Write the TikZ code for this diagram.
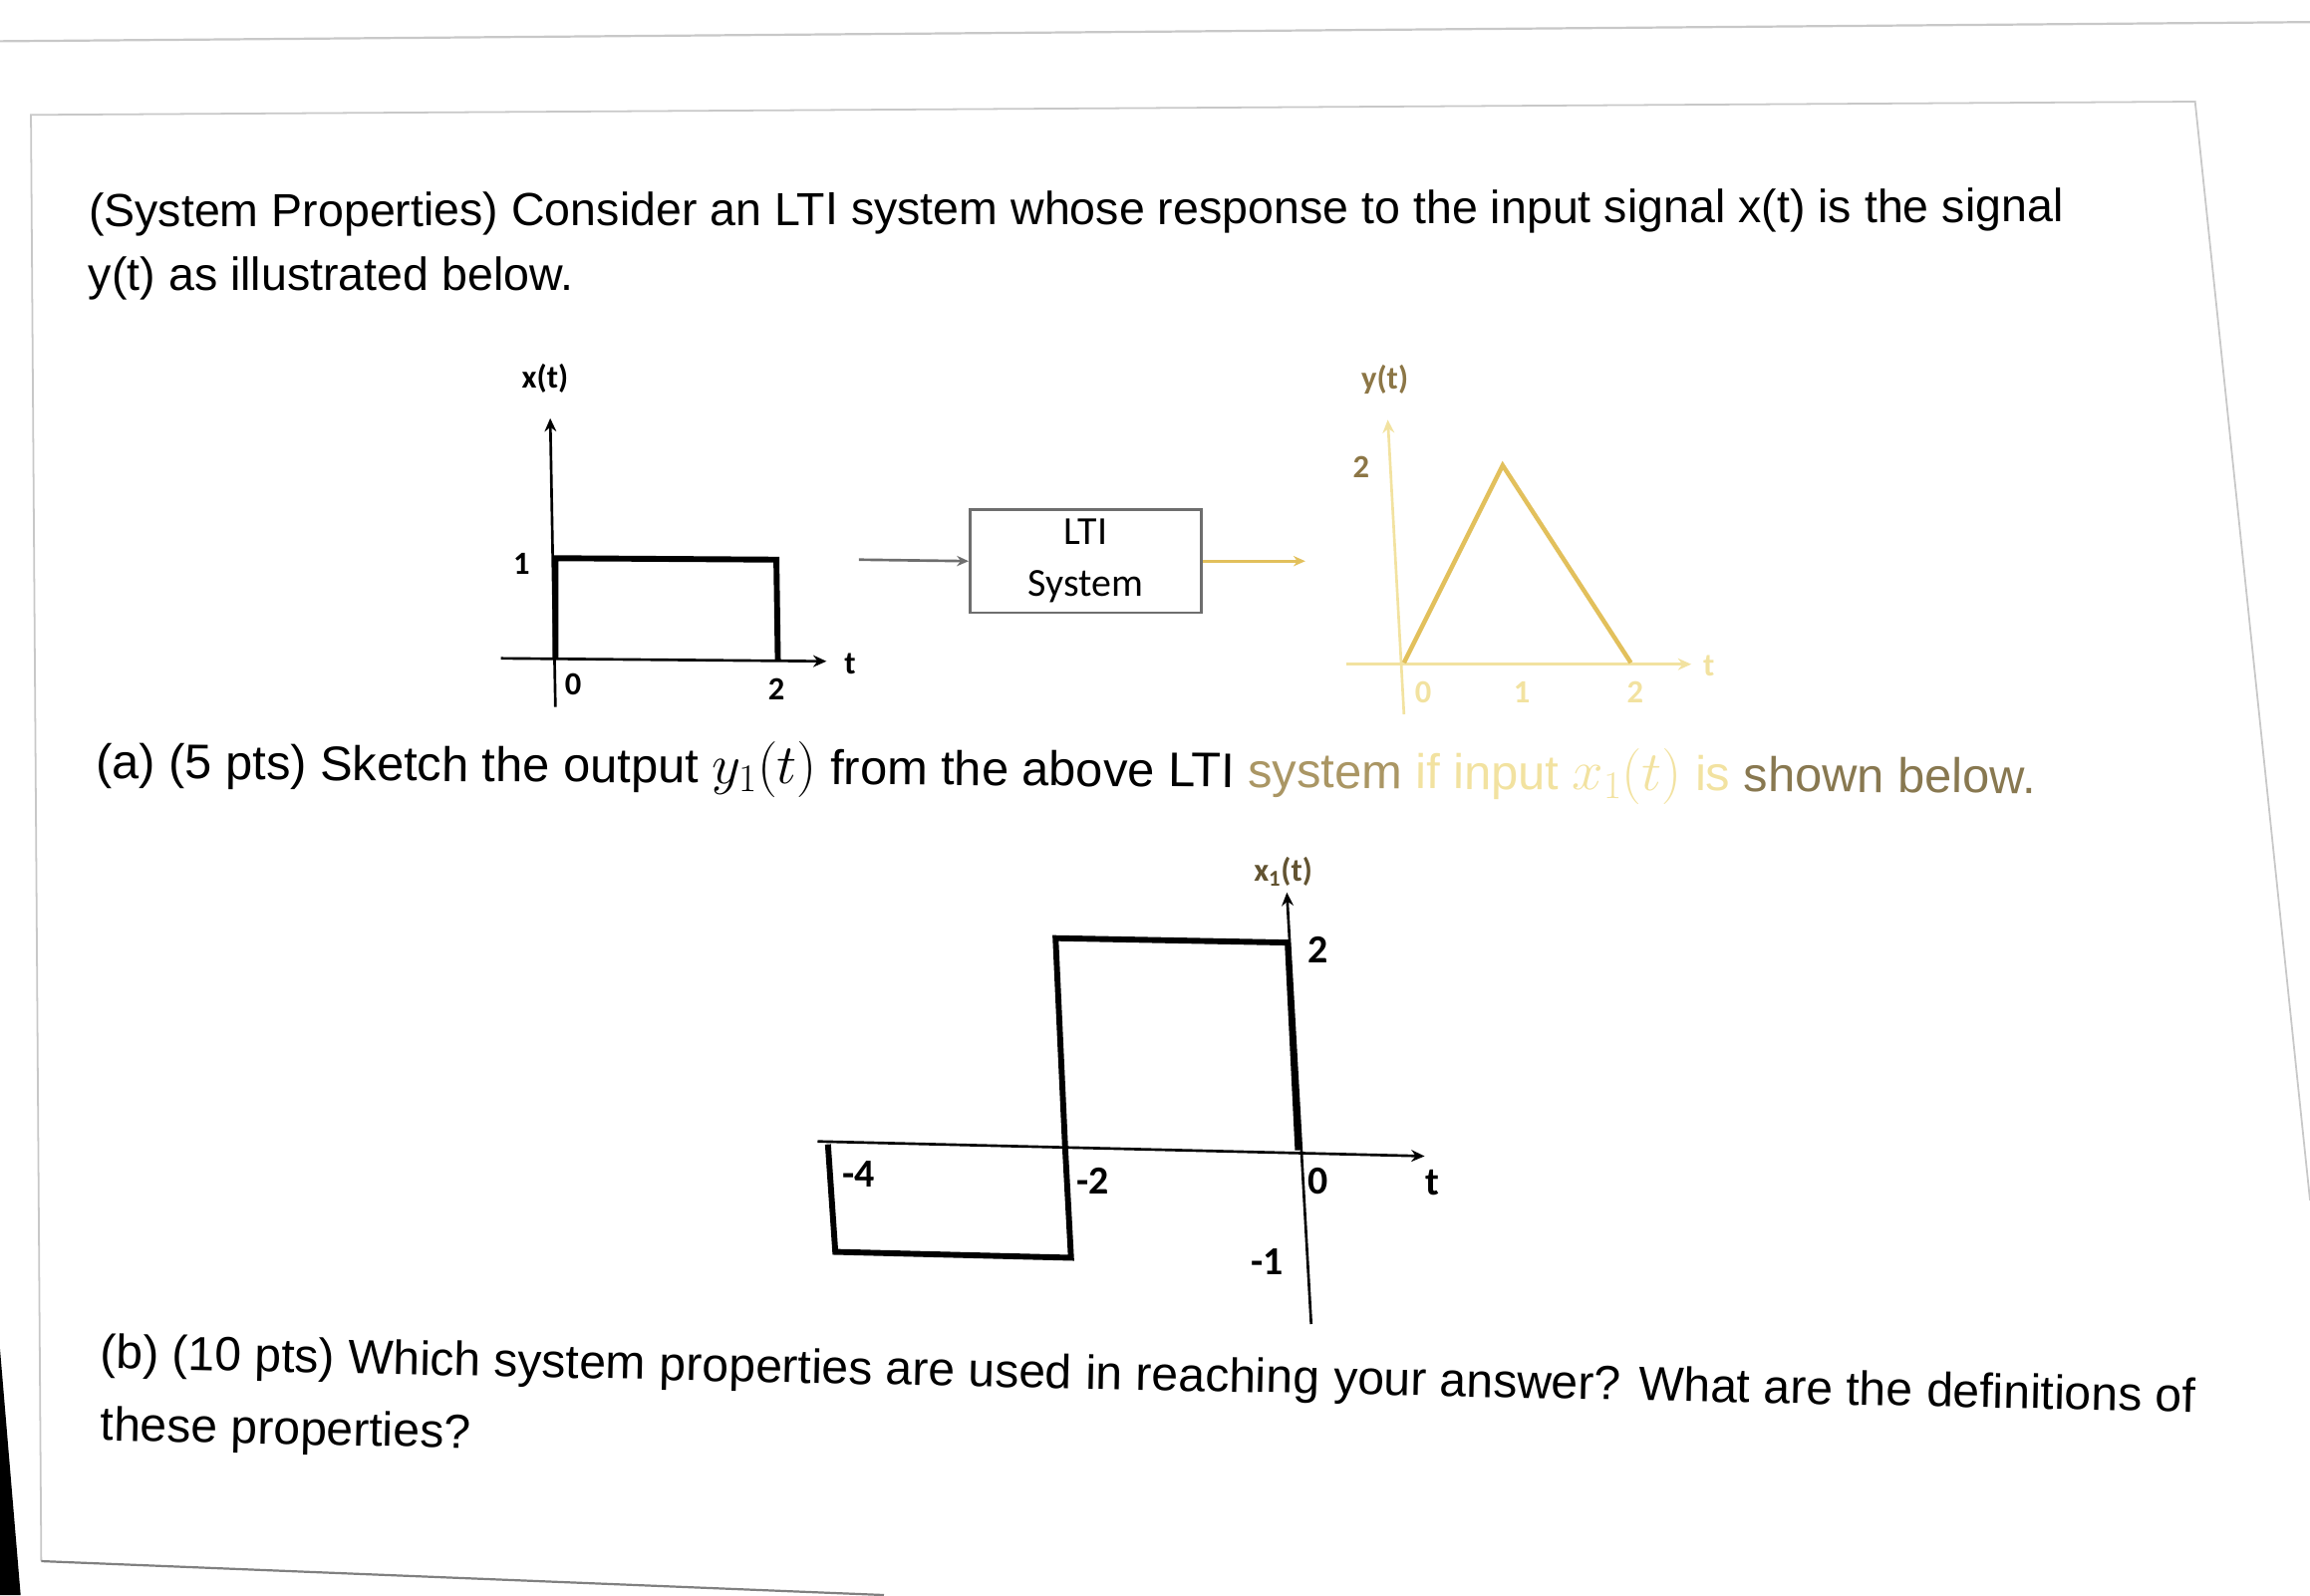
\documentclass[tikz,border=0pt]{standalone}
\usepackage{fix-cm}
\usepackage{fontspec}
\setmainfont{Liberation Sans}
\newfontfamily\plotfont{Carlito}
\usetikzlibrary{arrows.meta,positioning}
\tikzset {>=Stealth}

\definecolor{framegray}{RGB}{200,200,200}
\definecolor{boxgray}{RGB}{110,110,110}
\definecolor{gold}{RGB}{226,192,92}
\definecolor{palegold}{RGB}{242,226,160}
\definecolor{darkgold}{RGB}{140,118,70}
\definecolor{fadetext}{RGB}{170,150,100}

\tikzset{
  signal/.style={line width=4pt,line join=miter},
  axis/.style={line width=1.8pt,-{Stealth[length=9pt,width=8pt]}},
  plotlabel/.style={inner sep=0pt,font=\plotfont\bfseries\fontsize{22}{22}\selectfont},
  ticklabel/.style={inner sep=0pt,font=\plotfont\bfseries\fontsize{22}{22}\selectfont},
  bigtick/.style={inner sep=0pt,font=\plotfont\bfseries\fontsize{27}{27}\selectfont},
  question/.style={anchor=west,inner sep=0pt,font=\fontsize{31.5}{36}\selectfont},
  partbline/.style={question,anchor=base west,rotate=-1.2,font=\fontsize{32.5}{38}\selectfont},
}
\newcommand{\bigmath}[1]{{\fontsize{38}{38}\selectfont$#1$}}

\begin{document}
\begin{tikzpicture}[x=1pt,y=-1pt]
\useasboundingbox (0,0) rectangle (1568,1083);

% edges of the photographed screen
\draw[framegray,line width=1.5pt] (0,28) -- (1568,15);
\draw[framegray,line width=1.2pt] (28,1060) -- (21,78) -- (1490,69) -- (1568,815);
\draw[gray,line width=1.5pt] (28,1060) -- (600,1083);
\fill[black] (0,916) -- (14,1083) -- (0,1083) -- cycle;

% question text
\node[question,rotate=0.15] (title1) at (60,146)
  {(System Properties) Consider an LTI system whose response to the input signal x(t) is the signal};
\node[question] (title2) at (60,189) {y(t) as illustrated below.};

% x(t)
\path
  (377,480) coordinate (XB)
  (373.5,284) coordinate (XT)
  (340,447) coordinate (XL)
  (561,449) coordinate (XR);
\draw[axis] (XB) -- (XT);
\draw[axis] (XL) -- (XR);
\draw[signal]
  (377,447) coordinate (X0) --
  (377,379) coordinate (X1) --
  (527,380) coordinate (X2) --
  (528,448) coordinate (X3);
\node[plotlabel] (xlab) at (370,257) {x(t)};
\node[ticklabel] (xt) at (577,451) {t};
\foreach \t/\x/\y [count=\i] in {1/354/383, 0/389/465, 2/527/468}
  \node[ticklabel] (xtick\i) at (\x,\y) {\t};

% LTI block
\node[draw=boxgray,line width=2pt,minimum width=157pt,minimum height=70pt,
  align=center,font=\plotfont\fontsize{27}{35}\selectfont] (lti) at (737,381)
  {LTI\\System};
\coordinate (src) at (583,380);
\coordinate (dst) at (886,381);
\draw[boxgray,line width=1.8pt,-{Stealth[length=8pt,width=7pt]}] (src) -- (lti.west);
\draw[gold,line width=1.8pt,-{Stealth[length=8pt,width=7pt]}] (lti.east) -- (dst);

% y(t)
\path
  (953,485) coordinate (YB)
  (942,285) coordinate (YT)
  (914,451) coordinate (YL)
  (1148,451) coordinate (YR);
\draw[axis,palegold] (YB) -- (YT);
\draw[axis,palegold] (YL) -- (YR);
\draw[signal,gold,line width=3pt]
  (953,450) coordinate (Y0) --
  (1020,316) coordinate (Y1) --
  (1107,450) coordinate (Y2);
\node[plotlabel,text=darkgold] (ylab) at (940,258) {y(t)};
\node[ticklabel,text=darkgold] (ytwo) at (924,317) {2};
\node[ticklabel,text=palegold] (yt) at (1160,452) {t};
\foreach \t/\x/\y [count=\i] in {0/966/470, 1/1033/470, 2/1110/470}
  \node[ticklabel,text=palegold] (ytick\i) at (\x,\y) {\t};

% part (a)
\node[question,rotate=-0.45,font=\fontsize{33}{38}\selectfont] (parta) at (65,519)
  {(a) (5 pts) Sketch the output \bigmath{y_1(t)} from the above LTI
   \textcolor{fadetext}{system} \textcolor{palegold}{if input \bigmath{x_1(t)} is}
   \textcolor{fadetext!80!black}{shown below.}};

% x1(t)
\path
  (890,899) coordinate (UB)
  (873.5,606) coordinate (UT)
  (555,775) coordinate (UL)
  (967,785) coordinate (UR);
\draw[axis] (UB) -- (UT);
\draw[axis] (UL) -- (UR);
\draw[signal]
  (881,781) coordinate (U0) --
  (874,640) coordinate (U1) --
  (716.5,637) coordinate (U2) --
  (723,779) coordinate (U3);
\draw[signal]
  (723,779) --
  (727,854) coordinate (U4) --
  (567,850) coordinate (U5) --
  (562,777) coordinate (U6);
\node[plotlabel,text=darkgold!70!black] (ulab) at (871,592) {x\textsubscript{1}(t)};
\node[bigtick] (ut) at (972,803) {t};
\foreach \t/\x/\y [count=\i] in {2/895/645, -4/583/797, -2/742/802, 0/895/802, -1/860/857}
  \node[bigtick] (utick\i) at (\x,\y) {\t};

% part (b), set in pieces along the tilted line
\node[partbline] (partb1) at (68,929) {(b) (10 pts) Which system};
\node[partbline] (partb2) at (partb1.base east) {\ properties are used in reaching};
\node[partbline] (partb3) at (partb2.base east) {\ your answer? What are the};
\node[partbline] (partb4) at (partb3.base east) {\ definitions of};
\node[partbline] (partb5) at (68,978) {these properties?};
\end{tikzpicture}
\end{document}
